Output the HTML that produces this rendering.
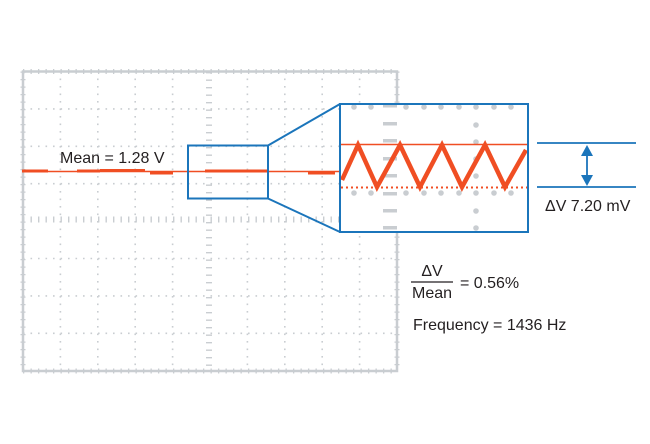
<!DOCTYPE html>
<html><head><meta charset="utf-8"><style>
html,body{margin:0;padding:0;background:#fff;}
svg{display:block;}
text{font-family:"Liberation Sans",sans-serif;fill:#231f20;}
</style></head><body>
<svg width="650" height="444" viewBox="0 0 650 444" xmlns="http://www.w3.org/2000/svg">
<g stroke="#c9cdd1" fill="none">
  <rect x="23" y="71.5" width="374" height="299.5" stroke-width="2.5"/>
  <path d="M23,71.5 H397 M23,371 H397" stroke-width="5" stroke-dasharray="1.3 6.2"/>
  <path d="M23,71.5 V371 M397,71.5 V371" stroke-width="5" stroke-dasharray="1.3 6.2"/>
  <path d="M60.4,71 V371 M97.8,71 V371 M135.2,71 V371 M172.6,71 V371 M247.4,71 V371 M284.8,71 V371 M322.2,71 V371 M359.6,71 V371" stroke-width="1.6" stroke-dasharray="1.6 5.9"/>
  <path d="M23,108.9 H397 M23,146.3 H397 M23,183.7 H397 M23,258.5 H397 M23,295.9 H397 M23,333.3 H397" stroke-width="1.6" stroke-dasharray="1.6 5.9"/>
  <path d="M209,72 V371" stroke-width="6" stroke-dasharray="1.4 6.1"/>
  <path d="M23,219.5 H397" stroke-width="6" stroke-dasharray="1.4 6.1"/>
</g>
<g stroke="#f04e23" fill="none">
  <path d="M22,171.5 H340" stroke-width="1.6"/>
  <path d="M22,171 H48 M77,171 H100 M100,170.5 H145 M150,173 H173 M205,171 H268 M308,173 H335" stroke-width="3"/>
</g>
<text x="60" y="163" font-size="16">Mean = 1.28 V</text>
<g stroke="#1b75bb" fill="none" stroke-width="2">
  <rect x="188" y="145.5" width="80" height="53"/>
  <path d="M268,145.5 L340,104 M268,198.5 L340,232"/>
</g>
<rect x="341" y="105" width="186" height="126" fill="#fff"/>
<g fill="#c9cdd1">
  <circle cx="354" cy="107" r="2.8"/><circle cx="371" cy="107" r="2.8"/><circle cx="406" cy="107" r="2.8"/><circle cx="424" cy="107" r="2.8"/><circle cx="441" cy="107" r="2.8"/><circle cx="459" cy="107" r="2.8"/><circle cx="476" cy="107" r="2.8"/><circle cx="494" cy="107" r="2.8"/><circle cx="511" cy="107" r="2.8"/>
  <circle cx="354" cy="193" r="2.8"/><circle cx="371" cy="193" r="2.8"/><circle cx="406" cy="193" r="2.8"/><circle cx="424" cy="193" r="2.8"/><circle cx="441" cy="193" r="2.8"/><circle cx="459" cy="193" r="2.8"/><circle cx="476" cy="193" r="2.8"/><circle cx="494" cy="193" r="2.8"/><circle cx="511" cy="193" r="2.8"/>
  <circle cx="476" cy="125" r="2.8"/><circle cx="476" cy="142" r="2.8"/><circle cx="476" cy="159" r="2.8"/><circle cx="476" cy="176" r="2.8"/><circle cx="476" cy="211" r="2.8"/><circle cx="476" cy="228" r="2.8"/>
  <rect x="383" y="104" width="14" height="3.5"/>
  <rect x="383" y="122" width="14" height="3.5"/>
  <rect x="383" y="139" width="14" height="3.5"/>
  <rect x="383" y="157" width="14" height="3.5"/>
  <rect x="383" y="174" width="14" height="3.5"/>
  <rect x="383" y="192" width="14" height="3.5"/>
  <rect x="383" y="209" width="14" height="3.5"/>
  <rect x="383" y="226" width="14" height="3.5"/>
</g>
<g stroke="#f04e23" fill="none">
  <path d="M341,144.5 H527" stroke-width="1.6"/>
  <path d="M341,187.5 H527" stroke-width="2" stroke-dasharray="2 3"/>
  <path d="M342,180 L358,145 L377,187 L400,145 L420,187 L442,145 L462,187 L485,145 L505,187 L526,150" stroke-width="4.5"/>
</g>
<rect x="340" y="104" width="188" height="128" fill="none" stroke="#1b75bb" stroke-width="2"/>
<g stroke="#1b75bb" stroke-width="1.8" fill="none">
  <path d="M537,143 H636 M537,187 H636"/>
  <path d="M587,152 V178"/>
</g>
<g fill="#1b75bb">
  <polygon points="587,145 581,156 593,156"/>
  <polygon points="587,186 581,175 593,175"/>
</g>
<text x="545" y="211" font-size="16">ΔV 7.20 mV</text>
<text x="432" y="276" font-size="16" text-anchor="middle">ΔV</text>
<line x1="411" y1="282" x2="453" y2="282" stroke="#231f20" stroke-width="1.3"/>
<text x="432" y="298" font-size="16" text-anchor="middle">Mean</text>
<text x="460" y="288" font-size="16">= 0.56%</text>
<text x="413" y="330" font-size="16">Frequency = 1436 Hz</text>
</svg>
</body></html>
